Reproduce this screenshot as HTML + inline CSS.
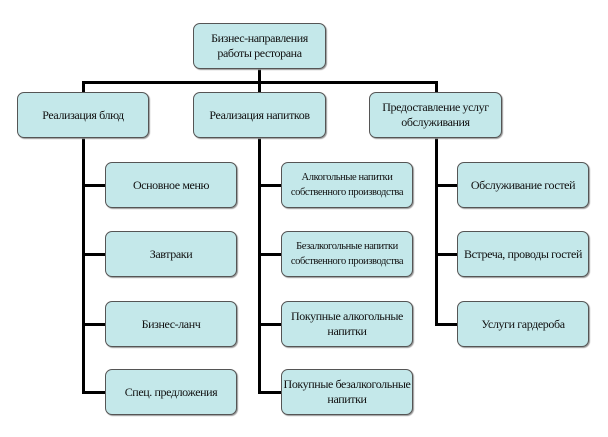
<!DOCTYPE html>
<html><head><meta charset="utf-8"><style>
body{margin:0;width:608px;height:437px;background:#fff;position:relative;overflow:hidden;font-family:"Liberation Serif","Noto Serif CJK SC",serif;}
.b{position:absolute;background:#c4e8ea;border:1px solid #555;border-radius:7px;box-shadow:1px 1px 1px #999;display:flex;align-items:center;justify-content:center;text-align:center;font-size:12px;line-height:15px;color:#111;box-sizing:border-box;letter-spacing:-0.4px}
.l{position:absolute;background:#000}
</style></head><body>
<div class="l" style="left:258px;top:68px;width:3px;height:15px"></div>
<div class="l" style="left:82px;top:81px;width:356px;height:3px"></div>
<div class="l" style="left:82px;top:81px;width:3px;height:12px"></div>
<div class="l" style="left:258px;top:81px;width:3px;height:12px"></div>
<div class="l" style="left:435px;top:81px;width:3px;height:12px"></div>
<div class="l" style="left:82px;top:138px;width:3px;height:256px"></div>
<div class="l" style="left:258px;top:138px;width:3px;height:256px"></div>
<div class="l" style="left:435px;top:138px;width:3px;height:187px"></div>
<div class="l" style="left:82px;top:184px;width:23px;height:3px"></div>
<div class="l" style="left:82px;top:253px;width:23px;height:3px"></div>
<div class="l" style="left:82px;top:323px;width:23px;height:3px"></div>
<div class="l" style="left:82px;top:391px;width:23px;height:3px"></div>
<div class="l" style="left:258px;top:184px;width:23px;height:3px"></div>
<div class="l" style="left:258px;top:253px;width:23px;height:3px"></div>
<div class="l" style="left:258px;top:323px;width:23px;height:3px"></div>
<div class="l" style="left:258px;top:391px;width:23px;height:3px"></div>
<div class="l" style="left:435px;top:184px;width:23px;height:3px"></div>
<div class="l" style="left:435px;top:253px;width:23px;height:3px"></div>
<div class="l" style="left:435px;top:323px;width:23px;height:3px"></div>

<div class="b" style="left:193px;top:23px;width:133px;height:46px">Бизнес-направления<br>работы ресторана</div>
<div class="b" style="left:17px;top:92px;width:132px;height:46px">Реализация блюд</div>
<div class="b" style="left:193px;top:92px;width:133px;height:46px">Реализация напитков</div>
<div class="b" style="left:369px;top:92px;width:133px;height:46px">Предоставление услуг<br>обслуживания</div>

<div class="b" style="left:105px;top:162px;width:132px;height:46px">Основное меню</div>
<div class="b" style="left:105px;top:231px;width:132px;height:46px">Завтраки</div>
<div class="b" style="left:105px;top:301px;width:132px;height:46px">Бизнес-ланч</div>
<div class="b" style="left:105px;top:369px;width:132px;height:46px">Спец. предложения</div>

<div class="b" style="left:281px;top:162px;width:132px;height:46px;font-size:10.5px">Алкогольные напитки<br>собственного производства</div>
<div class="b" style="left:281px;top:231px;width:132px;height:46px;font-size:10.5px">Безалкогольные напитки<br>собственного производства</div>
<div class="b" style="left:281px;top:301px;width:132px;height:46px">Покупные алкогольные<br>напитки</div>
<div class="b" style="left:281px;top:369px;width:132px;height:46px">Покупные безалкогольные<br>напитки</div>

<div class="b" style="left:457px;top:162px;width:132px;height:46px">Обслуживание гостей</div>
<div class="b" style="left:457px;top:231px;width:132px;height:46px">Встреча, проводы гостей</div>
<div class="b" style="left:457px;top:301px;width:132px;height:46px">Услуги гардероба</div>
</body></html>
